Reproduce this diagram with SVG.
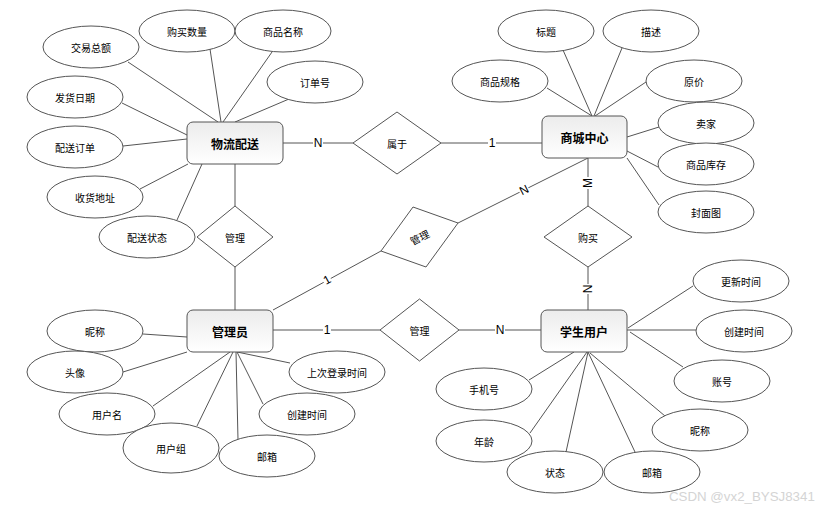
<svg xmlns="http://www.w3.org/2000/svg" width="840" height="511" viewBox="0 0 840 511">
<defs>
<linearGradient id="eg" x1="0" y1="0" x2="0" y2="1">
<stop offset="0" stop-color="#ececec"/>
<stop offset="1" stop-color="#ffffff"/>
</linearGradient>
<style>
.ent{fill:url(#eg);stroke:#555;stroke-width:1}
.att{fill:#fff;stroke:#555;stroke-width:1}
.rel{fill:#fff;stroke:#555;stroke-width:1}
.ln{stroke:#555;stroke-width:1;fill:none}
.et{font-family:"Noto Sans CJK SC","Noto Sans",sans-serif;font-size:12px;font-weight:bold;fill:#000;text-anchor:middle;dominant-baseline:central}
.at{font-family:"Noto Sans CJK SC","Noto Sans",sans-serif;font-size:10px;fill:#000;text-anchor:middle;dominant-baseline:central}
.lb{font-family:"Liberation Sans",Arial,sans-serif;font-size:12px;fill:#000;text-anchor:middle;dominant-baseline:central}
.bg{fill:#fff}
</style>
</defs>
<rect width="840" height="511" fill="#fff"/>
<g id="connectors">
<line class="ln" x1="128" y1="62" x2="218" y2="122"/>
<line class="ln" x1="210" y1="49" x2="221" y2="122"/>
<line class="ln" x1="272" y1="52" x2="223" y2="122"/>
<line class="ln" x1="289" y1="99" x2="235" y2="122"/>
<line class="ln" x1="122" y1="103" x2="187" y2="135"/>
<line class="ln" x1="123" y1="146" x2="187" y2="139"/>
<line class="ln" x1="140" y1="189" x2="188" y2="164"/>
<line class="ln" x1="177" y1="220" x2="202" y2="164"/>
<line class="ln" x1="235" y1="164" x2="235" y2="206"/>
<line class="ln" x1="283" y1="143" x2="353" y2="143"/>
<line class="ln" x1="441" y1="143" x2="542" y2="143"/>
<line class="ln" x1="563" y1="50" x2="592" y2="116"/>
<line class="ln" x1="622" y1="48" x2="594" y2="116"/>
<line class="ln" x1="547" y1="88" x2="592" y2="116"/>
<line class="ln" x1="646" y1="82" x2="595" y2="116"/>
<line class="ln" x1="627" y1="137" x2="659" y2="127"/>
<line class="ln" x1="627" y1="151" x2="658" y2="167"/>
<line class="ln" x1="627" y1="158" x2="659" y2="205"/>
<line class="ln" x1="588" y1="158" x2="588" y2="206"/>
<line class="ln" x1="588" y1="158" x2="458" y2="223"/>
<line class="ln" x1="235" y1="267" x2="235" y2="310"/>
<line class="ln" x1="143" y1="334" x2="187" y2="337"/>
<line class="ln" x1="123" y1="372" x2="187" y2="352"/>
<line class="ln" x1="153" y1="406" x2="230" y2="352"/>
<line class="ln" x1="197" y1="426" x2="233" y2="352"/>
<line class="ln" x1="238" y1="440" x2="236" y2="352"/>
<line class="ln" x1="263" y1="404" x2="237" y2="352"/>
<line class="ln" x1="290" y1="363" x2="237" y2="352"/>
<line class="ln" x1="273" y1="330" x2="380" y2="330"/>
<line class="ln" x1="273" y1="310" x2="381" y2="251"/>
<line class="ln" x1="459" y1="330" x2="541" y2="330"/>
<line class="ln" x1="588" y1="267" x2="588" y2="310"/>
<line class="ln" x1="628" y1="328" x2="693" y2="286"/>
<line class="ln" x1="627" y1="330" x2="696" y2="330"/>
<line class="ln" x1="630" y1="332" x2="683" y2="367"/>
<line class="ln" x1="590" y1="353" x2="665" y2="416"/>
<line class="ln" x1="588" y1="352" x2="635" y2="452"/>
<line class="ln" x1="588" y1="352" x2="566" y2="452"/>
<line class="ln" x1="587" y1="352" x2="530" y2="433"/>
<line class="ln" x1="574" y1="352" x2="529" y2="380"/>
<rect class="bg" x="313" y="137" width="10" height="12"/>
<text class="lb" x="318" y="143">N</text>
<rect class="bg" x="488" y="137" width="8" height="12"/>
<text class="lb" x="492" y="143">1</text>
<g transform="translate(588,183) rotate(-90)"><rect class="bg" x="-6" y="-6" width="12" height="12"/><text class="lb" x="0" y="0">M</text></g>
<g transform="translate(524,190) rotate(-26.6)"><rect class="bg" x="-5" y="-6" width="10" height="12"/><text class="lb" x="0" y="0">N</text></g>
<g transform="translate(327,280) rotate(-28.6)"><rect class="bg" x="-4" y="-6" width="8" height="12"/><text class="lb" x="0" y="0">1</text></g>
<rect class="bg" x="323" y="324" width="8" height="12"/>
<text class="lb" x="327" y="330">1</text>
<rect class="bg" x="495" y="324" width="10" height="12"/>
<text class="lb" x="500" y="330">N</text>
<g transform="translate(588,289) rotate(-90)"><rect class="bg" x="-5" y="-6" width="10" height="12"/><text class="lb" x="0" y="0">N</text></g>
</g>
<g id="wuliu"><rect class="ent" x="187" y="122" width="96" height="42" rx="6"/><text class="et" x="235" y="143">物流配送</text></g>
<g id="shangcheng"><rect class="ent" x="542" y="116" width="85" height="42" rx="6"/><text class="et" x="584.5" y="137">商城中心</text></g>
<g id="guanliyuan"><rect class="ent" x="187" y="310" width="86" height="42" rx="6"/><text class="et" x="230" y="331">管理员</text></g>
<g id="xuesheng"><rect class="ent" x="541" y="310" width="86" height="42" rx="6"/><text class="et" x="584" y="331">学生用户</text></g>
<g id="rel-shuyu"><polygon class="rel" points="353,143 397,112 441,143 397,174"/><text class="at" x="397" y="143">属于</text></g>
<g id="rel-guanli1"><polygon class="rel" points="197,237 235,206 273,237 235,267"/><text class="at" x="235" y="237">管理</text></g>
<g id="rel-guanli2"><polygon class="rel" points="381,251 413,207 458,223 426,267"/><text class="at" x="419.5" y="237" transform="rotate(-26.6 419.5 237)">管理</text></g>
<g id="rel-guanli3"><polygon class="rel" points="380,330 419.5,299 459,330 419.5,361"/><text class="at" x="419.5" y="330">管理</text></g>
<g id="rel-goumai"><polygon class="rel" points="544,237 588,206 632,237 588,267"/><text class="at" x="588" y="237">购买</text></g>
<g id="a-jiaoyi"><ellipse class="att" cx="91" cy="47" rx="48" ry="21"/><text class="at" x="91" y="47">交易总额</text></g>
<g id="a-goumaishu"><ellipse class="att" cx="187" cy="31" rx="48" ry="21"/><text class="at" x="187" y="31">购买数量</text></g>
<g id="a-spmc"><ellipse class="att" cx="283" cy="31" rx="48" ry="21"/><text class="at" x="283" y="31">商品名称</text></g>
<g id="a-ddh"><ellipse class="att" cx="315" cy="82" rx="48" ry="21"/><text class="at" x="315" y="82">订单号</text></g>
<g id="a-fhrq"><ellipse class="att" cx="75" cy="97" rx="48" ry="21"/><text class="at" x="75" y="97">发货日期</text></g>
<g id="a-psdd"><ellipse class="att" cx="75" cy="147" rx="48" ry="21"/><text class="at" x="75" y="147">配送订单</text></g>
<g id="a-shdz"><ellipse class="att" cx="95" cy="197" rx="48" ry="21"/><text class="at" x="95" y="197">收货地址</text></g>
<g id="a-pszt"><ellipse class="att" cx="147" cy="237" rx="48" ry="21"/><text class="at" x="147" y="237">配送状态</text></g>
<g id="a-bt"><ellipse class="att" cx="546" cy="31" rx="48" ry="21"/><text class="at" x="546" y="31">标题</text></g>
<g id="a-ms"><ellipse class="att" cx="651" cy="31" rx="48" ry="21"/><text class="at" x="651" y="31">描述</text></g>
<g id="a-spgg"><ellipse class="att" cx="500" cy="81" rx="48" ry="21"/><text class="at" x="500" y="81">商品规格</text></g>
<g id="a-yj"><ellipse class="att" cx="694" cy="81" rx="48" ry="21"/><text class="at" x="694" y="81">原价</text></g>
<g id="a-mj"><ellipse class="att" cx="706" cy="123" rx="48" ry="21"/><text class="at" x="706" y="123">卖家</text></g>
<g id="a-spkc"><ellipse class="att" cx="706" cy="164" rx="48" ry="21"/><text class="at" x="706" y="164">商品库存</text></g>
<g id="a-fmt"><ellipse class="att" cx="706" cy="212" rx="48" ry="21"/><text class="at" x="706" y="212">封面图</text></g>
<g id="a-nc1"><ellipse class="att" cx="95" cy="331" rx="48" ry="21"/><text class="at" x="95" y="331">昵称</text></g>
<g id="a-tx"><ellipse class="att" cx="75" cy="372" rx="48" ry="21"/><text class="at" x="75" y="372">头像</text></g>
<g id="a-yhm"><ellipse class="att" cx="107" cy="414" rx="48" ry="21"/><text class="at" x="107" y="414">用户名</text></g>
<g id="a-yhz"><ellipse class="att" cx="171" cy="448" rx="48" ry="25"/><text class="at" x="171" y="448">用户组</text></g>
<g id="a-yx1"><ellipse class="att" cx="267" cy="456" rx="48" ry="21"/><text class="at" x="267" y="456">邮箱</text></g>
<g id="a-cjsj1"><ellipse class="att" cx="307" cy="414" rx="48" ry="21"/><text class="at" x="307" y="414">创建时间</text></g>
<g id="a-scdl"><ellipse class="att" cx="337" cy="372" rx="48" ry="21"/><text class="at" x="337" y="372">上次登录时间</text></g>
<g id="a-gxsj"><ellipse class="att" cx="741" cy="281" rx="48" ry="21"/><text class="at" x="741" y="281">更新时间</text></g>
<g id="a-cjsj2"><ellipse class="att" cx="744" cy="331" rx="48" ry="21"/><text class="at" x="744" y="331">创建时间</text></g>
<g id="a-zh"><ellipse class="att" cx="722" cy="381" rx="48" ry="21"/><text class="at" x="722" y="381">账号</text></g>
<g id="a-nc2"><ellipse class="att" cx="700" cy="430" rx="48" ry="21"/><text class="at" x="700" y="430">昵称</text></g>
<g id="a-yx2"><ellipse class="att" cx="652" cy="472" rx="48" ry="21"/><text class="at" x="652" y="472">邮箱</text></g>
<g id="a-zt"><ellipse class="att" cx="555" cy="472" rx="48" ry="21"/><text class="at" x="555" y="472">状态</text></g>
<g id="a-nl"><ellipse class="att" cx="484" cy="441" rx="48" ry="21"/><text class="at" x="484" y="441">年龄</text></g>
<g id="a-sjh"><ellipse class="att" cx="484" cy="389" rx="48" ry="21"/><text class="at" x="484" y="389">手机号</text></g>
<text x="669" y="501" font-family="Liberation Sans, Arial, sans-serif" font-size="13.3" fill="#d4d4d4">CSDN @vx2_BYSJ8341</text>
</svg>
